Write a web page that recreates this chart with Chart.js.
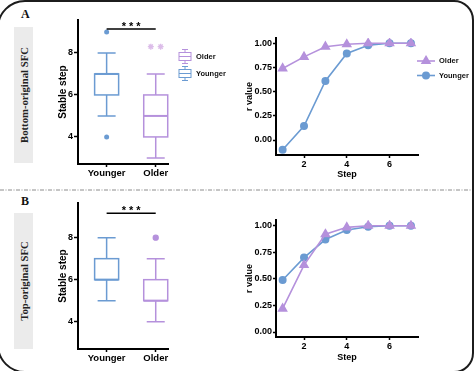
<!DOCTYPE html>
<html>
<head>
<meta charset="utf-8">
<script src="https://cdn.jsdelivr.net/npm/chart.js@4.4.0/dist/chart.umd.min.js"></script>
<style>
  html, body { margin: 0; padding: 0; background: #fff; }
  #fig { position: relative; width: 474px; height: 371px; overflow: hidden; }
  canvas { position: absolute; }
  .frame { position: absolute; left: -3px; top: 0; width: 477px; height: 373px; box-sizing: border-box;
           border: 2px solid #1c1c1c; border-radius: 28px 20px 20px 28px; }
  .side { position: absolute; left: 14px; width: 19px; height: 136px; background: #ebebeb; }
  .side span { position: absolute; left: 50%; top: 50%; transform: translate(-50%, -50%) rotate(-90deg);
               white-space: nowrap; font: bold 10.7px "Liberation Serif", "Times New Roman", serif; color: #222; }
  .lbl { position: absolute; left: 21px; font: bold 12px/12px "Liberation Serif", "Times New Roman", serif; color: #111; }
  .sep { position: absolute; left: 0; top: 189px; }
</style>
</head>
<body>
<div id="fig">
  <div class="lbl" style="top:8px">A</div>
  <div class="side" style="top:27px"><span>Bottom-original SFC</span></div>
  <canvas id="boxA" width="200" height="189" style="left:40px;top:0"></canvas>
  <canvas id="lineA" width="234" height="189" style="left:240px;top:0"></canvas>

  <svg class="sep" width="474" height="2"><line x1="0" y1="1" x2="474" y2="1" stroke="#8c8c8c" stroke-width="1" stroke-dasharray="4 1.5 1 1.5"/></svg>

  <div class="lbl" style="top:195px">B</div>
  <div class="side" style="top:213px"><span>Top-original SFC</span></div>
  <canvas id="boxB" width="200" height="182" style="left:40px;top:189px"></canvas>
  <canvas id="lineB" width="234" height="182" style="left:240px;top:189px"></canvas>

  <div class="frame"></div>
</div>

<script>
// values
const boxGroups = ['Younger', 'Older'];
const boxTicks = [4, 6, 8];

// A - bottom-original SFC, stable step
const bottomLow = [5, 3];
const bottomQ1 = [6, 4];
const bottomMedian = [7, 5];
const bottomQ3 = [7, 6];
const bottomHigh = [8, 7];
const bottomOutYounger = [9, 4];
const bottomOutOlder = [8.3, 8.3];

// B - top-original SFC, stable step
const topLow = [5, 4];
const topQ1 = [6, 5];
const topMedian = [6, 5];
const topQ3 = [7, 6];
const topHigh = [8, 7];
const topOutYounger = [];
const topOutOlder = [8];

// r value by step
const steps = [1, 2, 3, 4, 5, 6, 7];
const stepTicks = [2, 4, 6];
const rTicks = [0, 0.25, 0.5, 0.75, 1];
const bottomOlderR = [0.74, 0.86, 0.965, 0.99, 1.0, 1.0, 1.0];
const bottomYoungerR = [-0.10, 0.145, 0.61, 0.895, 0.98, 1.0, 1.0];
const topOlderR = [0.22, 0.63, 0.92, 0.985, 1.0, 1.0, 1.0];
const topYoungerR = [0.49, 0.70, 0.87, 0.96, 0.99, 1.0, 1.0];

const blue = '#6b9bd2';
const purple = '#b591dc';
const palePurple = '#dcbde9';
const FAMILY = "'Liberation Sans', Arial, sans-serif";
const tickFont = { family: FAMILY, weight: 'bold', size: 9 };

Chart.defaults.font.family = FAMILY;
Chart.defaults.color = '#000';

function fixedTicks(values) {
    return scale => { scale.ticks = values.map(v => ({ value: v })); };
}

// spread outliers that share a value so both stay visible
function spread(values, index) {
    return values.map((v, i) => {
        const same = values.filter(w => w === v).length;
        const k = values.slice(0, i).filter(w => w === v).length;
        return { x: index + (same > 1 ? (k - (same - 1) / 2) * 0.2 : 0), y: v };
    });
}

const axisGrid = { drawOnChartArea: false, color: '#000', tickColor: '#000', tickWidth: 1.5 };
const axisBorder = { color: '#000', width: 2 };

const boxPlugin = {
    id: 'boxes',
    beforeDatasetsDraw(chart, args, opts) {
        const { ctx, scales: { x, y } } = chart;
        const s = opts.stats;
        s.low.forEach((_, i) => {
            const cx = x.getPixelForValue(i);
            const half = 12, cap = 9;
            const pLow = y.getPixelForValue(s.low[i]);
            const pQ1 = y.getPixelForValue(s.q1[i]);
            const pMed = y.getPixelForValue(s.median[i]);
            const pQ3 = y.getPixelForValue(s.q3[i]);
            const pHigh = y.getPixelForValue(s.high[i]);
            ctx.save();
            ctx.strokeStyle = opts.colors[i];
            ctx.lineWidth = 1.5;
            ctx.beginPath();
            ctx.moveTo(cx, pLow); ctx.lineTo(cx, pQ1);
            ctx.moveTo(cx, pQ3); ctx.lineTo(cx, pHigh);
            ctx.moveTo(cx - cap, pLow); ctx.lineTo(cx + cap, pLow);
            ctx.moveTo(cx - cap, pHigh); ctx.lineTo(cx + cap, pHigh);
            ctx.stroke();
            ctx.fillStyle = '#fff';
            ctx.fillRect(cx - half, pQ3, half * 2, pQ1 - pQ3);
            ctx.strokeRect(cx - half, pQ3, half * 2, pQ1 - pQ3);
            ctx.lineWidth = 2;
            ctx.beginPath();
            ctx.moveTo(cx - half, pMed); ctx.lineTo(cx + half, pMed);
            ctx.stroke();
            ctx.restore();
        });
    }
};

const sigPlugin = {
    id: 'sig',
    afterDraw(chart, args, opts) {
        const { ctx, scales: { x, y } } = chart;
        const x0 = x.getPixelForValue(0), x1 = x.getPixelForValue(1);
        const py = y.getPixelForValue(opts.at);
        ctx.save();
        ctx.strokeStyle = '#000';
        ctx.lineWidth = 1.5;
        ctx.beginPath();
        ctx.moveTo(x0, py); ctx.lineTo(x1, py);
        ctx.stroke();
        ctx.fillStyle = '#000';
        ctx.font = 'bold 11px ' + FAMILY;
        ctx.textAlign = 'center';
        ctx.textBaseline = 'alphabetic';
        ctx.fillText('* * *', (x0 + x1) / 2, py + 1);
        ctx.restore();
    }
};

const boxLegendPlugin = {
    id: 'boxLegend',
    afterDraw(chart, args, opts) {
        if (!opts.items) return;
        const { ctx, chartArea } = chart;
        ctx.save();
        opts.items.forEach((item, i) => {
            const cx = chartArea.right + 17, cy = opts.top + i * 17;
            ctx.strokeStyle = item.color;
            ctx.lineWidth = 1;
            ctx.strokeRect(cx - 6, cy - 4, 12, 8);
            ctx.beginPath();
            ctx.moveTo(cx - 6, cy); ctx.lineTo(cx + 6, cy);
            ctx.moveTo(cx, cy - 7); ctx.lineTo(cx, cy - 4);
            ctx.moveTo(cx, cy + 4); ctx.lineTo(cx, cy + 7);
            ctx.moveTo(cx - 3, cy - 7); ctx.lineTo(cx + 3, cy - 7);
            ctx.moveTo(cx - 3, cy + 7); ctx.lineTo(cx + 3, cy + 7);
            ctx.stroke();
            ctx.fillStyle = '#111';
            ctx.font = 'bold 7.5px ' + FAMILY;
            ctx.textBaseline = 'middle';
            ctx.fillText(item.text, chartArea.right + 28, cy);
        });
        ctx.restore();
    }
};

const lineLegendPlugin = {
    id: 'lineLegend',
    afterDraw(chart, args, opts) {
        if (!opts.show) return;
        const { ctx, chartArea } = chart;
        ctx.save();
        chart.data.datasets.forEach((ds, i) => {
            const x0 = chartArea.right - 1, x1 = chartArea.right + 17;
            const cy = opts.top + i * 14.5;
            ctx.strokeStyle = ds.borderColor;
            ctx.lineWidth = 1.6;
            ctx.beginPath();
            ctx.moveTo(x0, cy); ctx.lineTo(x1, cy);
            ctx.stroke();
            ctx.fillStyle = ds.backgroundColor;
            Chart.helpers.drawPoint(ctx, { pointStyle: ds.pointStyle, radius: ds.pointRadius, borderWidth: 1 }, (x0 + x1) / 2, cy);
            ctx.fillStyle = '#111';
            ctx.font = 'bold 7.5px ' + FAMILY;
            ctx.textBaseline = 'middle';
            ctx.fillText(ds.label, chartArea.right + 21, cy);
        });
        ctx.restore();
    }
};

function makeBoxChart(id, p) {
    return new Chart(document.getElementById(id), {
        type: 'scatter',
        data: {
            datasets: [
                { data: spread(p.outYounger, 0), backgroundColor: blue, borderColor: blue, pointRadius: 2.5, borderWidth: 0 },
                { data: spread(p.outOlder, 1), backgroundColor: p.olderOutColor, borderColor: p.olderOutColor,
                  pointStyle: p.olderOutStyle, pointRadius: p.olderOutRadius, borderWidth: 1.3 }
            ]
        },
        options: {
            responsive: false,
            animation: false,
            events: [],
            layout: { padding: p.padding },
            plugins: {
                legend: { display: false },
                tooltip: { enabled: false },
                boxes: { stats: p.stats, colors: [blue, purple] },
                sig: { at: p.sigAt },
                boxLegend: { items: p.legend, top: 56.5 }
            },
            scales: {
                x: {
                    type: 'linear', min: -0.583, max: 1.25,
                    afterBuildTicks: fixedTicks([0, 1]),
                    afterFit: s => { s.height = p.xAxisH; },
                    ticks: { font: { family: FAMILY, weight: 'bold', size: 9.5 }, color: '#000', padding: 1,
                             maxRotation: 0, callback: v => boxGroups[v] },
                    grid: { ...axisGrid, tickLength: 3 },
                    border: axisBorder
                },
                y: {
                    min: p.yMin, max: p.yMax,
                    afterBuildTicks: fixedTicks(boxTicks),
                    afterFit: s => { s.width = 38; },
                    ticks: { font: tickFont, color: '#000', padding: 1 },
                    grid: { ...axisGrid, tickLength: 4 },
                    border: axisBorder,
                    title: { display: true, text: 'Stable step', color: '#000',
                             font: { family: FAMILY, weight: 'bold', size: 10 }, padding: { top: 17, bottom: 0 } }
                }
            }
        },
        plugins: [boxPlugin, sigPlugin, boxLegendPlugin]
    });
}

function makeLineChart(id, p) {
    return new Chart(document.getElementById(id), {
        type: 'line',
        data: {
            datasets: [
                { label: 'Older', data: steps.map((s, i) => ({ x: s, y: p.older[i] })),
                  borderColor: purple, backgroundColor: purple, pointStyle: 'triangle', pointRadius: 4.5, borderWidth: 1.6 },
                { label: 'Younger', data: steps.map((s, i) => ({ x: s, y: p.younger[i] })),
                  borderColor: blue, backgroundColor: blue, pointStyle: 'circle', pointRadius: 3.2, borderWidth: 1.6 }
            ]
        },
        options: {
            responsive: false,
            animation: false,
            events: [],
            layout: { padding: p.padding },
            plugins: {
                legend: { display: false },
                tooltip: { enabled: false },
                lineLegend: { show: p.legend, top: 61 }
            },
            scales: {
                x: {
                    type: 'linear', min: 0.69, max: 7.33,
                    afterBuildTicks: fixedTicks(stepTicks),
                    afterFit: s => { s.height = 34; },
                    ticks: { font: tickFont, color: '#000', padding: 1, maxRotation: 0 },
                    grid: { ...axisGrid, tickLength: 3 },
                    border: axisBorder,
                    title: { display: true, text: 'Step', color: '#000',
                             font: { family: FAMILY, weight: 'bold', size: 9 }, padding: { top: 0, bottom: p.stepPad } }
                },
                y: {
                    min: p.yMin, max: p.yMax,
                    afterBuildTicks: fixedTicks(rTicks),
                    afterFit: s => { s.width = 36; },
                    ticks: { font: tickFont, color: '#000', padding: 1, callback: v => v.toFixed(2) },
                    grid: { ...axisGrid, tickLength: 3 },
                    border: axisBorder,
                    title: { display: true, text: 'r value', color: '#000',
                             font: { family: FAMILY, weight: 'bold', size: 9 }, padding: { top: 4.6, bottom: 0 } }
                }
            }
        },
        plugins: [lineLegendPlugin]
    });
}

makeBoxChart('boxA', {
    stats: { low: bottomLow, q1: bottomQ1, median: bottomMedian, q3: bottomQ3, high: bottomHigh },
    outYounger: bottomOutYounger, outOlder: bottomOutOlder,
    olderOutColor: palePurple, olderOutStyle: 'star', olderOutRadius: 3,
    padding: { left: 0, right: 72, top: 20, bottom: 0 }, xAxisH: 25,
    yMin: 2.71, yMax: 9.57, sigAt: 9.14,
    legend: [{ text: 'Older', color: purple }, { text: 'Younger', color: blue }]
});

makeBoxChart('boxB', {
    stats: { low: topLow, q1: topQ1, median: topMedian, q3: topQ3, high: topHigh },
    outYounger: topOutYounger, outOlder: topOutOlder,
    olderOutColor: purple, olderOutStyle: 'circle', olderOutRadius: 2.5,
    padding: { left: 0, right: 72, top: 14, bottom: 0 }, xAxisH: 22,
    yMin: 2.7, yMax: 9.65, sigAt: 9.16,
    legend: null
});

makeLineChart('lineA', {
    older: bottomOlderR, younger: bottomYoungerR,
    padding: { left: 0, right: 56, top: 38, bottom: 0 },
    yMin: -0.155, yMax: 1.055, stepPad: 9.3, legend: true
});

makeLineChart('lineB', {
    older: topOlderR, younger: topYoungerR,
    padding: { left: 0, right: 56, top: 31, bottom: 0 },
    yMin: -0.047, yMax: 1.054, stepPad: 7.9, legend: false
});
</script>
</body>
</html>
